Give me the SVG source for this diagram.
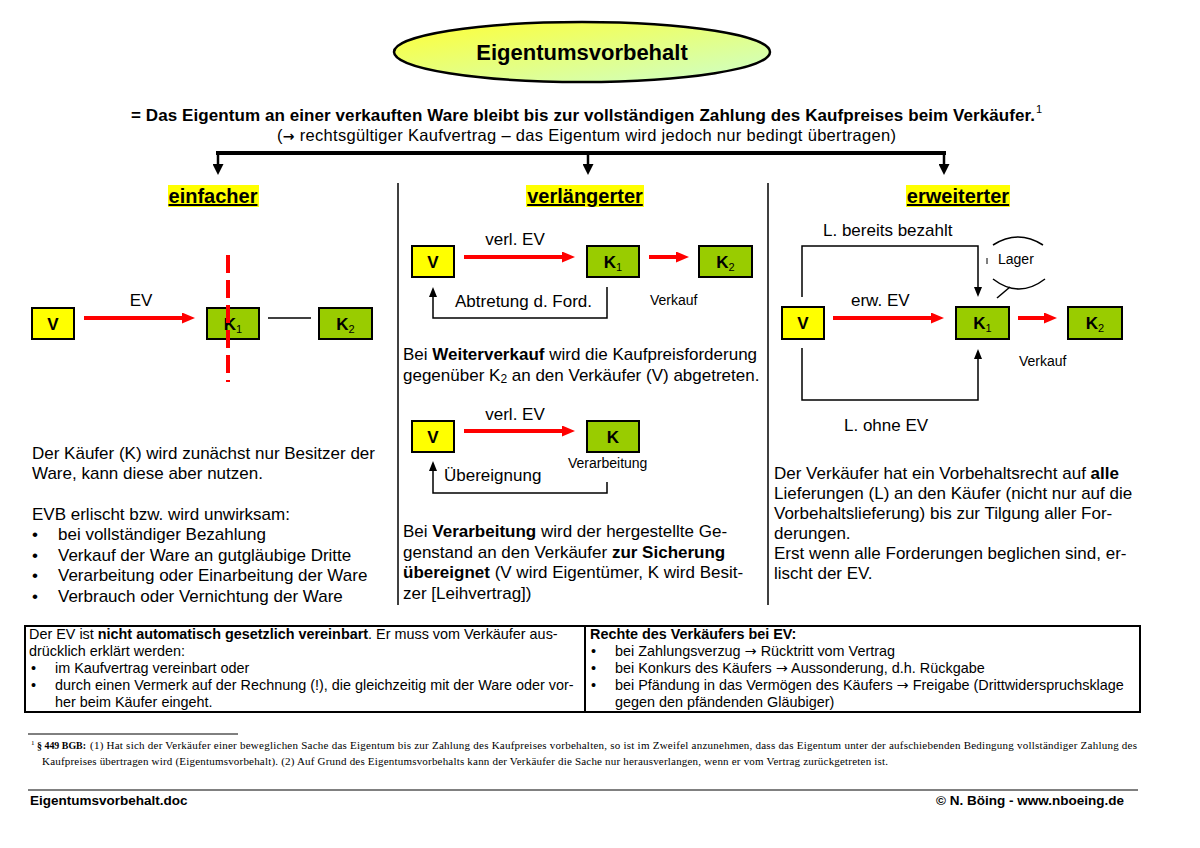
<svg xmlns="http://www.w3.org/2000/svg" width="1200" height="848" viewBox="0 0 1200 848">
<style>
text{font-family:"Liberation Sans",Arial,sans-serif;font-size:17px;fill:#000}
.b{font-weight:bold}
.sm{font-size:14px}
.tb{font-size:14.4px}
.ar{font-family:"DejaVu Sans",sans-serif}
.h{font-size:20px;font-weight:bold;text-decoration:underline}
.fn{font-family:"Liberation Serif","Times New Roman",serif;font-size:11px}
.by{fill:#ffff00;stroke:#000;stroke-width:2}
.bg{fill:#99cc00;stroke:#000;stroke-width:2}
.red{stroke:#ff0000;stroke-width:4;fill:none;marker-end:url(#ra)}
.blk{stroke:#000;stroke-width:1.5;fill:none;marker-end:url(#ba)}
.brk{stroke:#000;stroke-width:4;fill:none}
.dn{stroke:#000;stroke-width:2.5;fill:none;marker-end:url(#bb)}
.sep{stroke:#000;stroke-width:1.5}
.hl{fill:#ffff00}
</style>
<defs>
<linearGradient id="tg" x1="0" y1="0" x2="1" y2="1">
<stop offset="0" stop-color="#ffff33"/>
<stop offset="1" stop-color="#ccffcc"/>
</linearGradient>
<marker id="ra" markerUnits="userSpaceOnUse" markerWidth="13" markerHeight="11" refX="3" refY="5.5" orient="auto">
<path d="M0,0 L13,5.5 L0,11 z" fill="#ff0000"/>
</marker>
<marker id="ba" markerUnits="userSpaceOnUse" markerWidth="10" markerHeight="8" refX="2" refY="4" orient="auto">
<path d="M0,0 L10,4 L0,8 z" fill="#000"/>
</marker>
<marker id="bb" markerUnits="userSpaceOnUse" markerWidth="11" markerHeight="11" refX="2" refY="5.5" orient="auto">
<path d="M0,0 L11,5.5 L0,11 z" fill="#000"/>
</marker>
</defs>
<rect width="1200" height="848" fill="#fff"/>

<g id="title">
<ellipse cx="582" cy="52" rx="188" ry="30" fill="url(#tg)" stroke="#000" stroke-width="2.5"/>
<text x="582" y="60" text-anchor="middle" class="b" style="font-size:22px">Eigentumsvorbehalt</text>
</g>

<g id="definition">
<text x="131" y="121" class="b" textLength="904" lengthAdjust="spacing">= Das Eigentum an einer verkauften Ware bleibt bis zur vollständigen Zahlung des Kaufpreises beim Verkäufer.</text>
<text x="1036" y="113" style="font-size:11px">1</text>
<text x="277" y="141" style="font-size:16.5px" textLength="619" lengthAdjust="spacing">(<tspan class="ar b" style="font-size:14px">→</tspan> rechtsgültiger Kaufvertrag – das Eigentum wird jedoch nur bedingt übertragen)</text>
</g>

<g id="connectors">
<path class="brk" d="M216,153 H946"/>
<path class="dn" d="M218,153 V166"/>
<path class="dn" d="M588,153 V166"/>
<path class="dn" d="M944,153 V166"/>
<line class="sep" x1="398" y1="183" x2="398" y2="605"/>
<line class="sep" x1="768" y1="183" x2="768" y2="605"/>
<line class="red" x1="84" y1="318" x2="185" y2="318"/>
<line x1="268" y1="318" x2="311" y2="318" stroke="#000" stroke-width="1.5"/>
<line class="red" x1="464" y1="257" x2="565" y2="257"/>
<line class="red" x1="649" y1="257" x2="679" y2="257"/>
<path class="blk" d="M607,287 V318 H433 V295"/>
<line class="red" x1="464" y1="431" x2="565" y2="431"/>
<path class="blk" d="M607,482 V493 H433 V469"/>
<path class="blk" d="M802,297 V246 H978 V289"/>
<path class="blk" d="M802,348 V400 H978 V357"/>
<line class="red" x1="833" y1="318" x2="934" y2="318"/>
<line class="red" x1="1018" y1="318" x2="1047" y2="318"/>
</g>

<g id="col-einfacher">
<rect class="hl" x="168" y="185" width="91" height="22"/>
<text x="213" y="203" text-anchor="middle" class="h">einfacher</text>
<g id="e-V"><rect class="by" x="32" y="308" width="42" height="31"/><text x="53" y="329.5" text-anchor="middle" class="b">V</text></g>
<g id="e-K1"><rect class="bg" x="207" y="308" width="52" height="31"/><text x="233" y="329.5" text-anchor="middle" class="b">K<tspan style="font-size:11px;font-weight:normal" dy="3">1</tspan></text></g>
<g id="e-K2"><rect class="bg" x="319" y="308" width="53" height="31"/><text x="345.5" y="329.5" text-anchor="middle" class="b">K<tspan style="font-size:11px;font-weight:normal" dy="3">2</tspan></text></g>
<text x="141" y="306" text-anchor="middle">EV</text>
<line x1="228" y1="255" x2="228" y2="382" stroke="#ff0000" stroke-width="4" stroke-dasharray="18 7"/>
<text x="32" y="459">Der Käufer (K) wird zunächst nur Besitzer der</text>
<text x="32" y="479.4">Ware, kann diese aber nutzen.</text>
<text x="32" y="520">EVB erlischt bzw. wird unwirksam:</text>
<text x="32" y="540.4">•</text><text x="58" y="540.4">bei vollständiger Bezahlung</text>
<text x="32" y="560.8">•</text><text x="58" y="560.8">Verkauf der Ware an gutgläubige Dritte</text>
<text x="32" y="581.2">•</text><text x="58" y="581.2">Verarbeitung oder Einarbeitung der Ware</text>
<text x="32" y="601.6">•</text><text x="58" y="601.6">Verbrauch oder Vernichtung der Ware</text>
</g>

<g id="col-verlaengerter">
<rect class="hl" x="526" y="185" width="118" height="22"/>
<text x="585" y="203" text-anchor="middle" class="h">verlängerter</text>
<g id="v1-V"><rect class="by" x="412" y="246" width="42" height="31"/><text x="433" y="267.5" text-anchor="middle" class="b">V</text></g>
<g id="v1-K1"><rect class="bg" x="587" y="246" width="52" height="31"/><text x="613" y="267.5" text-anchor="middle" class="b">K<tspan style="font-size:11px;font-weight:normal" dy="3">1</tspan></text></g>
<g id="v1-K2"><rect class="bg" x="699" y="246" width="53" height="31"/><text x="725.5" y="267.5" text-anchor="middle" class="b">K<tspan style="font-size:11px;font-weight:normal" dy="3">2</tspan></text></g>
<text x="515" y="245" text-anchor="middle">verl. EV</text>
<text x="650" y="305" class="sm">Verkauf</text>
<text x="455" y="307">Abtretung d. Ford.</text>
<text x="403" y="360">Bei <tspan class="b">Weiterverkauf</tspan> wird die Kaufpreisforderung</text>
<text x="403" y="381">gegenüber K<tspan style="font-size:12px" dy="2">2</tspan><tspan dy="-2"> an den Verkäufer (V) abgetreten.</tspan></text>
<g id="v2-V"><rect class="by" x="412" y="421" width="42" height="31"/><text x="433" y="442.5" text-anchor="middle" class="b">V</text></g>
<g id="v2-K"><rect class="bg" x="587" y="421" width="52" height="31"/><text x="613" y="442.5" text-anchor="middle" class="b">K</text></g>
<text x="515" y="420" text-anchor="middle">verl. EV</text>
<text x="568" y="468" class="sm">Verarbeitung</text>
<text x="444" y="481">Übereignung</text>
<text x="403" y="537">Bei <tspan class="b">Verarbeitung</tspan> wird der hergestellte Ge-</text>
<text x="403" y="557.5">genstand an den Verkäufer <tspan class="b">zur Sicherung</tspan></text>
<text x="403" y="578"><tspan class="b">übereignet</tspan> (V wird Eigentümer, K wird Besit-</text>
<text x="403" y="598.5">zer [Leihvertrag])</text>
</g>

<g id="col-erweiterter">
<rect class="hl" x="906" y="185" width="104" height="22"/>
<text x="958" y="203" text-anchor="middle" class="h">erweiterter</text>
<g id="w-V"><rect class="by" x="782" y="307" width="42" height="32"/><text x="803" y="329" text-anchor="middle" class="b">V</text></g>
<g id="w-K1"><rect class="bg" x="956" y="307" width="53" height="32"/><text x="982.5" y="329" text-anchor="middle" class="b">K<tspan style="font-size:11px;font-weight:normal" dy="3">1</tspan></text></g>
<g id="w-K2"><rect class="bg" x="1068" y="307" width="54" height="32"/><text x="1095" y="329" text-anchor="middle" class="b">K<tspan style="font-size:11px;font-weight:normal" dy="3">2</tspan></text></g>
<text x="823" y="236">L. bereits bezahlt</text>
<text x="851" y="306">erw. EV</text>
<text x="1019" y="366" class="sm">Verkauf</text>
<text x="844" y="431">L. ohne EV</text>
<g id="lager">
<path d="M993,245 Q1018,229 1043,245" fill="none" stroke="#000" stroke-width="1.5"/>
<path d="M993,279 Q1019,299 1045,279" fill="none" stroke="#000" stroke-width="1.5"/>
<line x1="1010" y1="287" x2="997" y2="298" stroke="#000" stroke-width="1.5"/>
<line x1="987" y1="258" x2="987" y2="264" stroke="#000" stroke-width="1"/>
<text x="998" y="264" class="sm">Lager</text>
</g>
<text x="774" y="479">Der Verkäufer hat ein Vorbehaltsrecht auf <tspan class="b">alle</tspan></text>
<text x="774" y="499">Lieferungen (L) an den Käufer (nicht nur auf die</text>
<text x="774" y="519">Vorbehaltslieferung) bis zur Tilgung aller For-</text>
<text x="774" y="539">derungen.</text>
<text x="774" y="559">Erst wenn alle Forderungen beglichen sind, er-</text>
<text x="774" y="579">lischt der EV.</text>
</g>

<g id="table">
<rect x="25" y="626" width="1115" height="86" fill="none" stroke="#000" stroke-width="2"/>
<line x1="585" y1="626" x2="585" y2="712" stroke="#000" stroke-width="2"/>
<text x="29" y="639" class="tb">Der EV ist <tspan class="b">nicht automatisch gesetzlich vereinbart</tspan>. Er muss vom Verkäufer  aus-</text>
<text x="29" y="656" class="tb">drücklich erklärt werden:</text>
<text x="31" y="673" class="tb">•</text><text x="55" y="673" class="tb">im Kaufvertrag vereinbart oder</text>
<text x="31" y="690" class="tb">•</text><text x="55" y="690" class="tb">durch einen Vermerk auf der Rechnung (!), die gleichzeitig mit der Ware oder vor-</text>
<text x="55" y="707" class="tb">her beim Käufer eingeht.</text>
<text x="590" y="639" class="tb b">Rechte des Verkäufers bei EV:</text>
<text x="591" y="656" class="tb">•</text><text x="615" y="656" class="tb">bei Zahlungsverzug <tspan class="ar">→</tspan> Rücktritt vom Vertrag</text>
<text x="591" y="673" class="tb">•</text><text x="615" y="673" class="tb">bei Konkurs des Käufers <tspan class="ar">→</tspan> Aussonderung, d.h. Rückgabe</text>
<text x="591" y="690" class="tb">•</text><text x="615" y="690" class="tb">bei Pfändung in das Vermögen des Käufers <tspan class="ar">→</tspan> Freigabe (Drittwiderspruchsklage</text>
<text x="615" y="707" class="tb">gegen den pfändenden Gläubiger)</text>
</g>

<g id="footnote">
<line x1="28" y1="734" x2="238" y2="734" stroke="#000" stroke-width="1"/>
<text x="31" y="745" class="fn" style="font-size:7px">1</text>
<text x="37" y="749" class="fn b" textLength="49" lengthAdjust="spacingAndGlyphs">§ 449 BGB:</text>
<text x="90" y="749" class="fn" textLength="1047" lengthAdjust="spacing">(1) Hat sich der Verkäufer einer beweglichen Sache das Eigentum bis zur Zahlung des Kaufpreises vorbehalten, so ist im Zweifel anzunehmen, dass das Eigentum unter der aufschiebenden Bedingung vollständiger Zahlung des</text>
<text x="42" y="765" class="fn" textLength="846" lengthAdjust="spacing">Kaufpreises übertragen wird (Eigentumsvorbehalt). (2) Auf Grund des Eigentumsvorbehalts kann der Verkäufer die Sache nur herausverlangen, wenn er vom Vertrag zurückgetreten ist.</text>
</g>

<g id="footer">
<line x1="28" y1="790" x2="1138" y2="790" stroke="#808080" stroke-width="2"/>
<text x="30" y="805" class="b" style="font-size:13.5px">Eigentumsvorbehalt.doc</text>
<text x="1124" y="805" class="b" style="font-size:13.5px" text-anchor="end">© N. Böing - www.nboeing.de</text>
</g>
</svg>
